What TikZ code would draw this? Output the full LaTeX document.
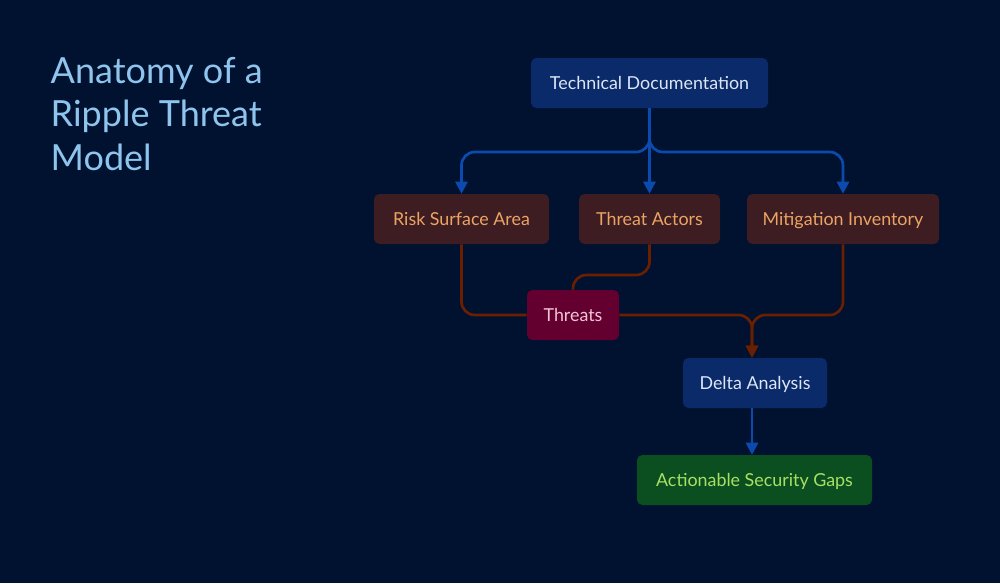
\documentclass[tikz,border=0pt]{standalone}
\usepackage{fontspec}
\setmainfont{Lato}
\usetikzlibrary{arrows.meta}
\definecolor{bg}{HTML}{00122F}
\definecolor{bluebox}{HTML}{0A2A6A}
\definecolor{bluetxt}{HTML}{DCE6F6}
\definecolor{brownbox}{HTML}{3D1C22}
\definecolor{browntxt}{HTML}{EBA464}
\definecolor{redbox}{HTML}{640030}
\definecolor{redtxt}{HTML}{F2C4D4}
\definecolor{greenbox}{HTML}{0B4F20}
\definecolor{greentxt}{HTML}{A8E064}
\definecolor{bluearr}{HTML}{0B4BB0}
\definecolor{brownarr}{HTML}{6A2000}
\definecolor{titlec}{HTML}{8EC4EE}
\tikzset{
 box/.style={rounded corners=4pt, minimum height=37.5pt, inner sep=0pt, text height=11.5pt, text depth=2pt, font=\fontsize{13.4}{16}\selectfont},
 bluen/.style={box, fill=bluebox, text=bluetxt},
 brownn/.style={box, fill=brownbox, text=browntxt},
 redn/.style={box, fill=redbox, text=redtxt},
 greenn/.style={box, fill=greenbox, text=greentxt},
 barr/.style={draw=bluearr, line width=2pt, rounded corners=10pt, -{Triangle[width=9pt,length=9pt]}},
 rline/.style={draw=brownarr, line width=2pt, rounded corners=10pt},
 rarr/.style={rline, -{Triangle[width=9pt,length=9pt]}},
}
\begin{document}
\begin{tikzpicture}[x=0.75pt,y=-0.75pt]
\fill[bg] (0,0) rectangle (1000,583);
\useasboundingbox (0,0) rectangle (1000,583);
\node[anchor=north west, align=left, text=titlec, font=\fontsize{27}{32.3}\selectfont] (title) at (46,53) {Anatomy of a\\Ripple Threat\\Model};
\node[bluen, minimum width=177.75pt] (doc) at (649.5,83) {Technical Documentation};
\node[brownn, minimum width=131.25pt] (risk) at (461.5,219) {Risk Surface Area};
\node[brownn, minimum width=105.75pt] (act) at (649.5,219) {Threat Actors};
\node[brownn, minimum width=144pt] (mit) at (843,219) {Mitigation Inventory};
\node[redn, minimum width=69pt] (thr) at (573,315) {Threats};
\node[bluen, minimum width=108pt] (delta) at (755,383) {Delta Analysis};
\node[greenn, minimum width=176.25pt] (gaps) at (754.5,480) {Actionable Security Gaps};
\coordinate (m) at (752,315);
\draw[barr] (doc.south) |- (461.5,152) -- (risk.north);
\draw[barr] (doc.south) |- (843,152) -- (mit.north);
\draw[barr] (doc.south) -- (act.north);
\draw[rline] (risk.south) |- (thr.west);
\draw[rline] (act.south) |- (573,275) -- (thr.north);
\draw[rarr] (thr.east) -| (delta.north -| m);
\draw[rarr] (mit.south) |- (m) -- (delta.north -| m);
\draw[barr] (delta.south -| m) -- (gaps.north -| m);
\end{tikzpicture}
\end{document}
